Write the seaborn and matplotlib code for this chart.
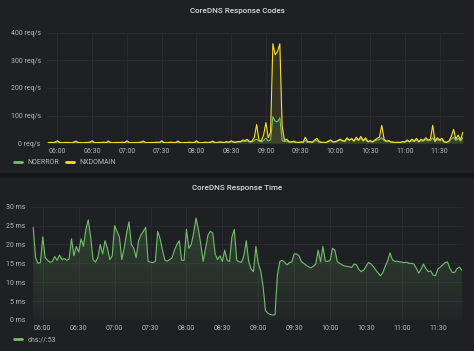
import matplotlib
matplotlib.use('Agg')
import matplotlib.pyplot as plt
import matplotlib.dates as mdates
from matplotlib.colors import to_rgb
from matplotlib.lines import Line2D
from matplotlib.patches import Rectangle, PathPatch
import numpy as np
import pandas as pd
import seaborn as sns

# 2-minute samples starting at 05:52
start = '2021-03-01 05:52'
step = '2min'

noerror = [
    2, 2, 2, 3, 6, 2, 2, 2, 2, 2,
    2, 3, 5, 2, 2, 2, 2, 2, 3, 6,
    2, 2, 2, 2, 3, 2, 5, 2, 2, 2,
    2, 2, 3, 2, 6, 2, 2, 2, 2, 2,
    3, 5, 2, 2, 2, 2, 2, 3, 2, 6,
    2, 2, 2, 3, 2, 2, 5, 2, 2, 2,
    2, 3, 2, 2, 6, 2, 2, 2, 3, 2,
    3, 5, 2, 2, 4, 3, 2, 4, 3, 6,
    4, 3, 5, 4, 8, 6, 9, 4, 5, 10,
    15, 8, 5, 10, 18, 8, 12, 96, 80, 78,
    92, 10, 6, 8, 4, 4, 5, 3, 3, 4,
    3, 10, 4, 5, 3, 8, 10, 4, 3, 3,
    3, 6, 10, 4, 5, 8, 12, 8, 6, 15,
    10, 18, 8, 15, 10, 18, 8, 14, 5, 8,
    4, 9, 12, 14, 20, 10, 6, 8, 4, 3,
    3, 3, 3, 5, 4, 9, 5, 10, 6, 12,
    5, 10, 8, 14, 9, 10, 20, 6, 14, 9,
    12, 4, 3, 6, 15, 22, 10, 18, 8, 20,
]

nxdomain = [
    2, 3, 3, 4, 9, 3, 2, 3, 3, 3,
    2, 4, 8, 3, 3, 2, 3, 3, 4, 9,
    3, 2, 3, 3, 4, 3, 8, 3, 2, 3,
    3, 3, 4, 3, 9, 3, 2, 3, 3, 3,
    4, 8, 3, 2, 3, 3, 3, 4, 3, 9,
    3, 2, 3, 4, 3, 3, 8, 3, 2, 3,
    3, 4, 3, 3, 9, 3, 2, 3, 4, 3,
    4, 8, 3, 3, 5, 4, 3, 6, 4, 9,
    5, 4, 7, 6, 12, 10, 14, 6, 8, 22,
    68, 12, 8, 30, 75, 20, 40, 360, 320, 332,
    360, 62, 10, 15, 6, 5, 8, 4, 3, 5,
    4, 22, 5, 6, 4, 12, 18, 6, 4, 3,
    3, 8, 12, 5, 6, 10, 15, 10, 8, 20,
    12, 16, 8, 22, 12, 25, 10, 20, 6, 10,
    5, 12, 18, 22, 65, 15, 8, 10, 5, 4,
    3, 4, 3, 6, 5, 12, 6, 15, 8, 18,
    6, 15, 10, 20, 12, 15, 65, 8, 20, 12,
    18, 5, 4, 8, 25, 50, 15, 30, 12, 40,
]

resp_ms = [
    24.5, 16.5, 15, 15.2, 22, 16.5, 15.8, 15.3, 15.5, 16.8,
    15.8, 17.2, 16, 16.3, 15.8, 16.2, 21.5, 17, 19.5, 18,
    21.5, 19.5, 24, 26.5, 22, 16, 15.3, 16.5, 20, 17.5,
    21, 19, 16, 17, 25, 23.5, 22, 16, 19, 23,
    26, 20, 19, 16.5, 21, 22.5, 23.5, 24.5, 15.5, 15.3,
    15.2, 15.5, 23.5, 21.5, 18.5, 15.8, 15.6, 16, 16.5, 18.5,
    20, 21, 15.8, 15.8, 24, 19, 20, 23, 27, 24,
    20, 15.5, 19, 22.5, 23.5, 23, 17.5, 16, 17, 15.5,
    18.5, 15.8, 15.5, 22, 24, 15.8, 15.4, 15.3, 17, 21,
    15.5, 13.5, 12.8, 19.5, 15, 13, 9, 2.5, 1.8, 1.5,
    1.3, 1.4, 12, 15.5, 15.8, 15.3, 14.6, 15.2, 15.4, 17.5,
    17.5, 17, 15.5, 15, 14.5, 14.1, 13.8, 14.2, 14.8, 18.5,
    15.4, 19.5, 15.6, 15.5, 15.8, 19, 18.5, 15.5, 15, 14.6,
    14.3, 14.2, 14.1, 13.9, 14.8, 14.6, 13.4, 12.8, 13.2, 14.2,
    15.2, 14.9, 14.2, 13.3, 12.5, 11.7, 12.5, 14.2, 15.6, 17.8,
    16, 15.5, 15.6, 15.4, 15.3, 15.2, 15.3, 15, 15, 14.8,
    13.7, 12.4, 13.5, 14.8, 13.6, 12.8, 13, 11.9, 11.7, 13.5,
    14, 14.6, 15.2, 15.4, 13.7, 12.6, 12.6, 13.6, 14, 13.2,
]

codes_yticks = [0, 100, 200, 300, 400]
codes_ylabels = ['0 req/s', '100 req/s', '200 req/s', '300 req/s', '400 req/s']
time_yticks = [0, 5, 10, 15, 20, 25, 30]
time_ylabels = ['0 ms', '5 ms', '10 ms', '15 ms', '20 ms', '25 ms', '30 ms']

times = pd.date_range(start, periods=len(resp_ms), freq=step)
x_min = pd.Timestamp('2021-03-01 05:51')
x_max = pd.Timestamp('2021-03-01 11:51')

panel = '#1f2024'
gap = '#141619'
grid = '#2b2d32'
tick_c = '#b4b8bf'
title_c = '#d8d9da'
green = '#73bf69'
yellow = '#fade2a'

sns.set_theme(style='dark', rc={
    'figure.facecolor': gap,
    'axes.facecolor': panel,
    'axes.edgecolor': panel,
    'grid.color': grid,
    'xtick.color': tick_c,
    'ytick.color': tick_c,
    'text.color': title_c,
})
plt.rcParams['font.family'] = ['Roboto', 'DejaVu Sans']

W, H = 474, 351
fig = plt.figure(figsize=(W / 100, H / 100), dpi=100)

# panel backgrounds
fig.patches.append(Rectangle((0, 1 - 173 / H), 1, 173 / H, transform=fig.transFigure,
                             facecolor=panel, edgecolor='none', zorder=-10))
fig.patches.append(Rectangle((0, 0), 1, 1 - 178 / H, transform=fig.transFigure,
                             facecolor=panel, edgecolor='none', zorder=-10))

ax1 = fig.add_axes([47 / W, 1 - 143.3 / H, 417 / W, 110.6 / H])
ax2 = fig.add_axes([32 / W, 1 - 320 / H, 431 / W, 113.3 / H])

# --- top: response codes
codes = pd.DataFrame({'time': times, 'NOERROR': noerror, 'NXDOMAIN': nxdomain})
codes_long = codes.melt('time', var_name='code', value_name='rate')
palette = {'NOERROR': green, 'NXDOMAIN': yellow}
for name in ['NOERROR', 'NXDOMAIN']:
    ax1.fill_between(codes['time'], codes[name], 0, color=palette[name], alpha=0.1, lw=0)
sns.lineplot(data=codes_long, x='time', y='rate', hue='code', palette=palette,
             hue_order=['NOERROR', 'NXDOMAIN'], lw=0.8, ax=ax1, legend=False)
ax1.set_ylim(0, 400)
ax1.set_yticks(codes_yticks, codes_ylabels)

# --- bottom: response time with gradient fill
rt = pd.DataFrame({'time': times, 'ms': resp_ms})
xn = mdates.date2num(times)
rgba = np.zeros((256, 1, 4))
rgba[..., :3] = to_rgb(green)
rgba[..., 3] = np.linspace(0.04, 0.24, 256)[:, None]
im = ax2.imshow(rgba, aspect='auto', origin='lower', extent=[xn[0], xn[-1], 0, 30],
                zorder=1, interpolation='bilinear')
poly = ax2.fill_between(rt['time'], rt['ms'], 0, facecolor='none', edgecolor='none')
clip = PathPatch(poly.get_paths()[0], transform=ax2.transData, facecolor='none', edgecolor='none')
ax2.add_patch(clip)
im.set_clip_path(clip)
sns.lineplot(data=rt, x='time', y='ms', color=green, lw=0.8, ax=ax2, zorder=3)
ax2.set_ylim(0, 30)
ax2.set_yticks(time_yticks, time_ylabels)

for ax in (ax1, ax2):
    ax.set_xlim(x_min, x_max)
    ax.set_aspect('auto')
    ax.xaxis.set_major_locator(mdates.MinuteLocator(byminute=[0, 30]))
    ax.xaxis.set_major_formatter(mdates.DateFormatter('%H:%M'))
    ax.set_xlabel('')
    ax.set_ylabel('')
    ax.grid(True, color=grid, lw=0.6)
    ax.tick_params(length=0, labelsize=5, colors=tick_c)
    ax.tick_params(axis='y', pad=4.5)
    ax.tick_params(axis='x', pad=3.5)
    for s in ax.spines.values():
        s.set_visible(False)

fig.text(0.5, 1 - 11 / H, 'CoreDNS Response Codes', ha='center', va='center',
         fontsize=5.8, fontweight='medium', color=title_c)
fig.text(0.5, 1 - 188 / H, 'CoreDNS Response Time', ha='center', va='center',
         fontsize=5.8, fontweight='medium', color=title_c)

leg_kw = dict(loc='center left', frameon=False, fontsize=5, handlelength=1.1,
              handletextpad=0.8, columnspacing=1.0, borderpad=0, borderaxespad=0,
              labelcolor=tick_c)
fig.legend([Line2D([], [], color=green, lw=2), Line2D([], [], color=yellow, lw=2)],
           ['NOERROR', 'NXDOMAIN'], ncol=2,
           bbox_to_anchor=(14 / W, 1 - 163 / H), **leg_kw)
fig.legend([Line2D([], [], color=green, lw=2)], ['dns://:53'],
           bbox_to_anchor=(14 / W, 1 - 340 / H), **leg_kw)

fig.savefig('out.png', dpi=100, facecolor=fig.get_facecolor())
